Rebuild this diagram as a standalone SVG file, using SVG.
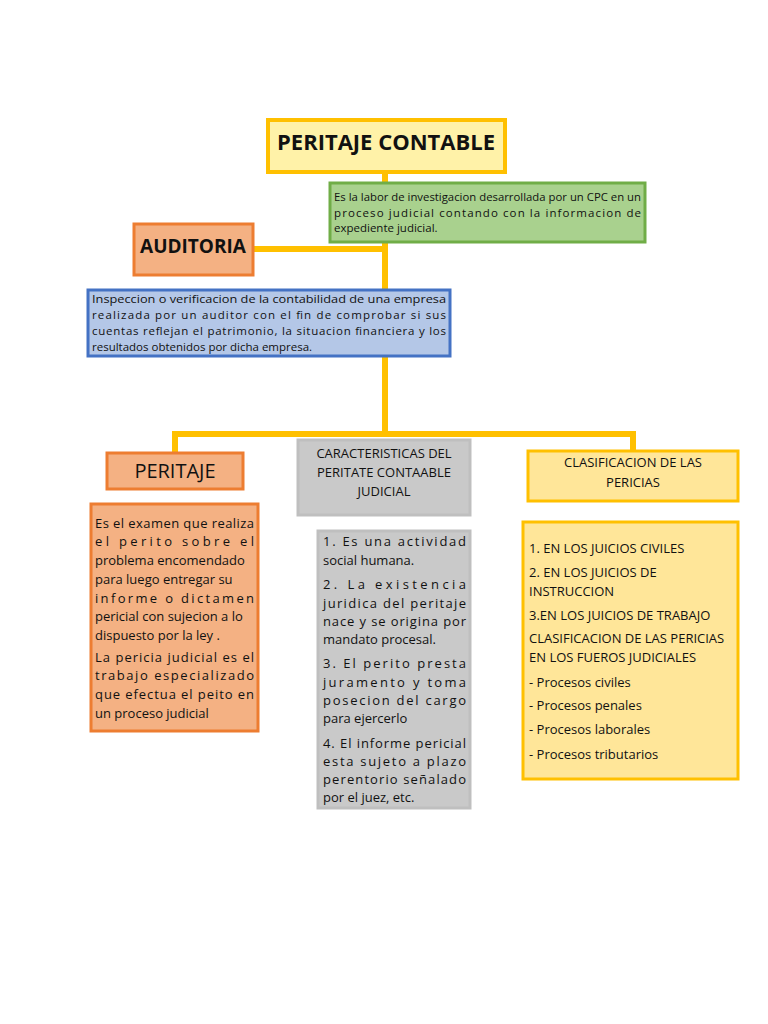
<svg xmlns="http://www.w3.org/2000/svg" width="768" height="1024" viewBox="0 0 768 1024">
<style>
text{font-family:"Open Sans","Liberation Sans",sans-serif;fill:#111}
.s{font-size:11.5px}
.m{font-size:13px}
.ln{stroke:#FFC000;stroke-width:6;fill:none}
.org{fill:#F4B183;stroke:#ED7D31;stroke-width:3}
.yel{fill:#FFE699;stroke:#FFC000;stroke-width:3}
.gry{fill:#C9C9C9;stroke:#BFBFBF;stroke-width:3}
</style>
<rect width="768" height="1024" fill="#fff"/>
<g id="connectors">
<path class="ln" d="M385 172V434M254 249H385M175 456V434H633V451"/>
</g>
<g id="titulo"><rect x="268" y="120" width="237" height="52" fill="#FFF2A8" stroke="#FFC000" stroke-width="4"/>
<text x="386" y="150" text-anchor="middle" font-size="21" font-weight="bold" textLength="218" lengthAdjust="spacingAndGlyphs">PERITAJE CONTABLE</text></g>
<g id="definicion"><rect x="330" y="183" width="315" height="59" fill="#A9D18E" stroke="#70AD47" stroke-width="3"/>
<text class="s" x="334" y="201" textLength="307" lengthAdjust="spacingAndGlyphs">Es la labor de investigacion desarrollada por un CPC en un</text>
<text class="s" x="334" y="217" textLength="307" lengthAdjust="spacing">proceso judicial contando con la informacion de</text>
<text class="s" x="334" y="232">expediente judicial.</text></g>
<g id="auditoria"><rect class="org" x="134" y="224" width="119" height="51"/>
<text x="193" y="253" text-anchor="middle" font-size="19" font-weight="bold">AUDITORIA</text></g>
<g id="auditoria-def"><rect x="88" y="290" width="362" height="66" fill="#B4C7E7" stroke="#4472C4" stroke-width="3"/>
<text class="s" x="92" y="303" textLength="354" lengthAdjust="spacingAndGlyphs">Inspeccion o verificacion de la contabilidad de una empresa</text>
<text class="s" x="92" y="319" textLength="354" lengthAdjust="spacing">realizada por un auditor con el fin de comprobar si sus</text>
<text class="s" x="92" y="335" textLength="354" lengthAdjust="spacing">cuentas reflejan el patrimonio, la situacion financiera y los</text>
<text class="s" x="92" y="351">resultados obtenidos por dicha empresa.</text></g>
<g id="peritaje"><rect class="org" x="107" y="453" width="136" height="36"/>
<text x="175" y="478" text-anchor="middle" font-size="20">PERITAJE</text></g>
<g id="caracteristicas"><rect class="gry" x="298" y="440" width="172" height="75"/>
<g class="m" text-anchor="middle"><text x="384" y="458">CARACTERISTICAS DEL</text><text x="384" y="477">PERITATE CONTAABLE</text><text x="384" y="496">JUDICIAL</text></g></g>
<g id="clasificacion"><rect class="yel" x="528" y="451" width="210" height="50"/>
<g class="m" text-anchor="middle"><text x="633" y="467">CLASIFICACION DE LAS</text><text x="633" y="487">PERICIAS</text></g></g>
<g id="peritaje-def"><rect class="org" x="91" y="504" width="167" height="227"/>
<g class="m"><text x="95" y="528" textLength="159" lengthAdjust="spacing">Es el examen que realiza</text>
<text x="95" y="546" textLength="159" lengthAdjust="spacing">el perito sobre el</text>
<text x="95" y="565">problema encomendado</text>
<text x="95" y="584">para luego entregar su</text>
<text x="95" y="603" textLength="159" lengthAdjust="spacing">informe o dictamen</text>
<text x="95" y="621">pericial con sujecion a lo</text>
<text x="95" y="640">dispuesto por la ley .</text>
<text x="95" y="662" textLength="159" lengthAdjust="spacing">La pericia judicial es el</text>
<text x="95" y="680" textLength="159" lengthAdjust="spacing">trabajo especializado</text>
<text x="95" y="699" textLength="159" lengthAdjust="spacing">que efectua el peito en</text>
<text x="95" y="718">un proceso judicial</text></g></g>
<g id="caracteristicas-lista"><rect class="gry" x="318" y="531" width="152" height="277"/>
<g class="m"><text x="323" y="546" textLength="143" lengthAdjust="spacing">1. Es una actividad</text>
<text x="323" y="565">social humana.</text>
<text x="323" y="589" textLength="143" lengthAdjust="spacing">2. La existencia</text>
<text x="323" y="608" textLength="143" lengthAdjust="spacing">juridica del peritaje</text>
<text x="323" y="626" textLength="143" lengthAdjust="spacing">nace y se origina por</text>
<text x="323" y="644">mandato procesal.</text>
<text x="323" y="668" textLength="143" lengthAdjust="spacing">3. El perito presta</text>
<text x="323" y="687" textLength="143" lengthAdjust="spacing">juramento y toma</text>
<text x="323" y="705" textLength="143" lengthAdjust="spacing">posecion del cargo</text>
<text x="323" y="723">para ejercerlo</text>
<text x="323" y="748" textLength="143" lengthAdjust="spacing">4. El informe pericial</text>
<text x="323" y="766" textLength="143" lengthAdjust="spacing">esta sujeto a plazo</text>
<text x="323" y="784" textLength="143" lengthAdjust="spacing">perentorio señalado</text>
<text x="323" y="802">por el juez, etc.</text></g></g>
<g id="clasificacion-lista"><rect class="yel" x="523" y="522" width="215" height="257"/>
<g class="m"><text x="529" y="553">1. EN LOS JUICIOS CIVILES</text>
<text x="529" y="577">2. EN LOS JUICIOS DE</text>
<text x="529" y="596">INSTRUCCION</text>
<text x="529" y="620">3.EN LOS JUICIOS DE TRABAJO</text>
<text x="529" y="643">CLASIFICACION DE LAS PERICIAS</text>
<text x="529" y="662">EN LOS FUEROS JUDICIALES</text>
<text x="529" y="687">- Procesos civiles</text>
<text x="529" y="710">- Procesos penales</text>
<text x="529" y="734">- Procesos laborales</text>
<text x="529" y="759">- Procesos tributarios</text></g></g>
</svg>
